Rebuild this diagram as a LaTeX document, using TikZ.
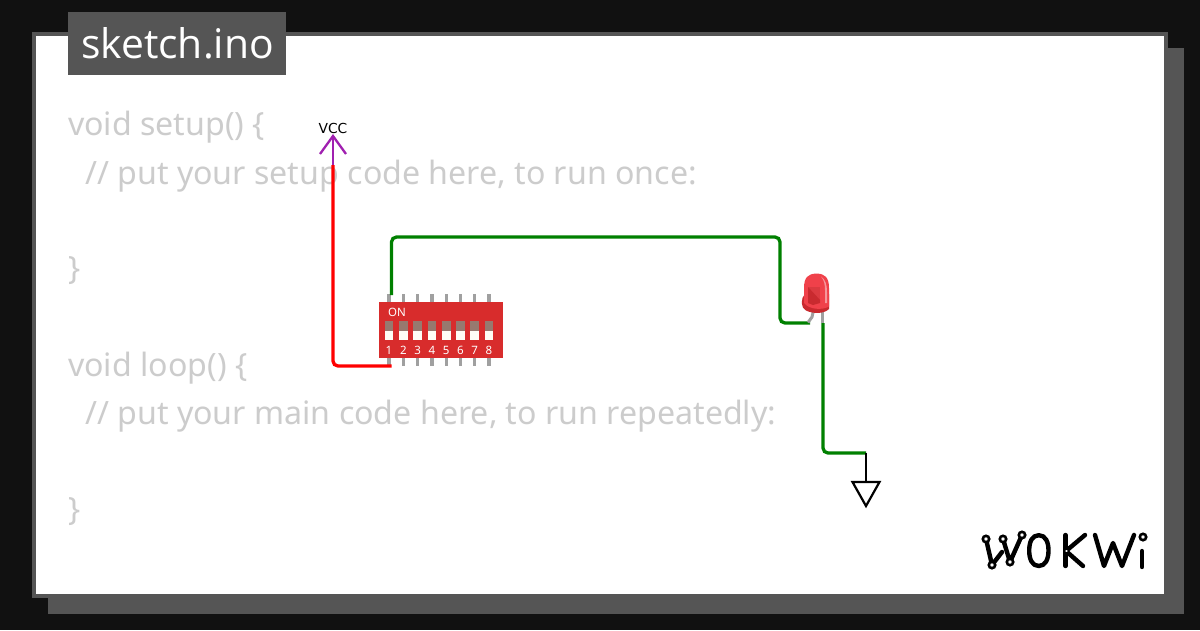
\documentclass[tikz,border=0pt]{standalone}
\usepackage{fontspec}
\setmainfont{Noto Sans}
\newfontfamily\tabfont{Open Sans}
\newfontfamily\vccfont{DejaVu Sans}
\definecolor{bgdark}{HTML}{111111}
\definecolor{frameg}{HTML}{555555}
\definecolor{codeg}{HTML}{CCCCCC}
\definecolor{wireg}{HTML}{008000}
\definecolor{wirer}{HTML}{FF0000}
\definecolor{vccp}{HTML}{A020B0}
\definecolor{dipred}{HTML}{D82C2C}
\definecolor{pinG}{HTML}{A0A0A0}
\definecolor{swG}{HTML}{97796F}
\definecolor{swW}{HTML}{FFFDF5}
\definecolor{ledR}{HTML}{F0414A}
\definecolor{ledD}{HTML}{C92A2F}
\definecolor{ledM}{HTML}{DB3A40}
\tikzset{
 codeline/.style={anchor=base west,inner sep=0,text=codeg,font=\fontsize{32.15}{32}\selectfont},
 wire/.style={line width=3.3pt,rounded corners=5pt},
 pinline/.style={line width=3.2pt,pinG},
 diptext/.style={text=white,inner sep=0,anchor=base,font=\fontsize{11.5}{12}\selectfont},
 logo/.style={black,line width=4.4pt,line cap=round,line join=round},
 logoc/.style={black,line width=2.6pt,fill=white},
}
\begin{document}
\begin{tikzpicture}[x=1pt,y=-1pt]
\useasboundingbox (0,0) rectangle (1200,630);
\fill[bgdark] (0,0) rectangle (1200,630);
\fill[frameg] (48,48) rectangle (1184,614);
\fill[white,draw=frameg,line width=4pt] (34,34) rectangle (1166,596);
\node[fill=frameg,minimum width=218pt,minimum height=63pt,inner sep=0,anchor=north west] (tab) at (68,12) {};
\node[anchor=base west,inner sep=0,text=white,font=\tabfont\fontsize{40.8}{41}\selectfont] (tabt) at (81,58) {sketch.ino};
\node[codeline] (c1) at (68,135) {void setup() \{};
\node[codeline] (c2) at (85,184) {// put your setup code here, to run once:};
\node[codeline] (c3) at (68,279) {\}};
\node[codeline] (c4) at (68,376) {void loop() \{};
\node[codeline] (c5) at (85,424) {// put your main code here, to run repeatedly:};
\node[codeline] (c6) at (68,520) {\}};
% dip
\foreach \x in {389,403.3,417.6,431.9,446.1,460.4,474.7,489}{
 \draw[pinline] (\x,294)--(\x,366);
}
\node[fill=dipred,minimum width=124pt,minimum height=56pt,inner sep=0,anchor=north west] (dip) at (379,302) {};
\foreach \x/\n in {389/1,403.3/2,417.6/3,431.9/4,446.1/5,460.4/6,474.7/7,489/8}{
 \fill[swG] (\x-4.4,321) rectangle (\x+4.4,331.2);
 \fill[swW] (\x-4.4,331.2) rectangle (\x+4.4,340);
 \node[diptext] (n\n) at (\x,354.5) {\n};
}
\node[text=white,inner sep=0,anchor=base west,font=\fontsize{11.5}{12}\selectfont] (on) at (388,316) {ON};
% wires
\coordinate (dipt) at (391.5,295);
\coordinate (dipb) at (391.5,366);
\coordinate (ledl) at (810,323);
\coordinate (ledr) at (823,323);
\coordinate (vcct) at (333,165);
\coordinate (gndt) at (866,453);
\draw[wire,wirer] (dipb) -| (vcct);
\draw[wire,wireg] (dipt) |- (780,237) |- (ledl);
\draw[wire,wireg] (ledr) |- (gndt);
% VCC
\draw[line width=2.3pt,vccp] (333,165)--(333,136);
\draw[line width=2.3pt,vccp] (320,154)--(333,136)--(346,154);
\node[inner sep=0,anchor=base,text=black,font=\vccfont\fontsize{13.8}{14}\selectfont] (vcc) at (333,133) {VCC};
% GND
\draw[line width=2.2pt,black] (866,453)--(866,482);
\draw[line width=2.2pt,black,line join=miter] (852.5,482)--(879.5,482)--(866,506)--cycle;
% LED
\draw[line width=3pt,pinG] (822.5,308)--(822.5,323);
\draw[line width=3pt,pinG] (814,308)--(812,317)--(808,322.5);
\fill[ledD] (805,294) .. controls (800.5,298) and (800.5,308) .. (806,310.5) .. controls (813,314) and (824,314) .. (829,309) -- (829,294) -- cycle;
\fill[ledR] (804,303) -- (804,288) .. controls (804,277.5) and (808,273.6) .. (816.5,273.6) .. controls (825,273.6) and (829,277.5) .. (829,288) -- (829,306.5) .. controls (822,310.5) and (809,309.5) .. (804,303) -- cycle;
\fill[ledM] (808,287) rectangle (820,303);
\fill[ledD] (808,287) -- (820,300) -- (820,303) -- (813,305) -- (808,303) -- cycle;
\fill[white,opacity=.45] (821,276.5) .. controls (825.5,279.5) and (827,285) .. (827,292) -- (827,303) -- (825,303) -- (825,290) .. controls (825,284) and (824,280) .. (821,276.5) -- cycle;
% logo
\draw[logo] (986,539) -- (992,565) -- (1002,552);
\draw[logo] (1003,539) -- (1010,562) -- (1022,535);
\draw[logo] (1038.8,535.2) .. controls (1045.5,535.2) and (1048.5,542) .. (1048.5,550.5) .. controls (1048.5,559) and (1045.5,566) .. (1038.8,566) .. controls (1032,566) and (1029.2,559) .. (1029.2,550.5) .. controls (1029.2,542) and (1032,535.2) .. (1038.8,535.2) -- cycle;
\draw[logo] (1065.5,535) -- (1065.5,566);
\draw[logo] (1066,551) -- (1085,535);
\draw[logo] (1066,551) -- (1083,566);
\draw[logo] (1095,535) -- (1104,566) -- (1113,543) -- (1122,566) -- (1134,535);
\draw[logo] (1142,551) -- (1142,567);
\foreach \x/\y in {986/539,992/565,1003/539,1010/562,1022/535,1143/537}{
 \draw[logoc] (\x,\y) circle (3.2pt);
}
\draw[black,line width=1.6pt,fill=white] (1066.5,551) circle (2pt);
\end{tikzpicture}
\end{document}
